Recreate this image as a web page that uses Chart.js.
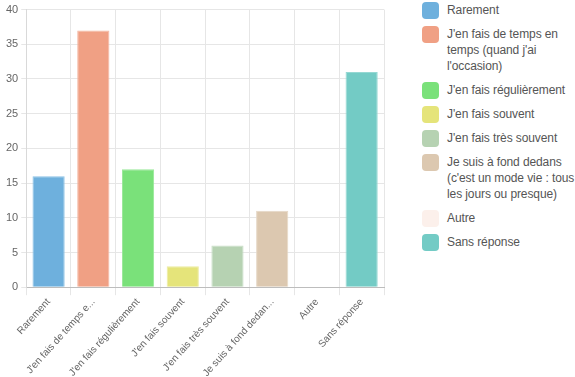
<!DOCTYPE html>
<html>
<head>
<meta charset="utf-8">
<script src="https://cdn.jsdelivr.net/npm/chart.js@4"></script>
<style>
	body { margin: 0; background: #fff; font-family: "Liberation Sans", Arial, sans-serif; }
	#wrap { position: relative; width: 575px; height: 377px; }
	#chart-box { position: absolute; left: 0; top: 0; width: 392px; height: 377px; }
	#legend { position: absolute; left: 422px; top: 2px; width: 153px; margin: 0; padding: 0; list-style: none; }
	#legend li { position: relative; padding-left: 25px; margin-bottom: 8px; font-size: 12px; line-height: 16px; color: #555; letter-spacing: -0.1px; }
	#legend li span { position: absolute; left: 0; top: 0; width: 17px; height: 17px; border-radius: 4px; }
</style>
</head>
<body>
<div id="wrap">
	<div id="chart-box"><canvas id="chart-frequence"></canvas></div>
	<ul id="legend"></ul>
</div>
<script>
const LABELS = [
	"Rarement",
	"J'en fais de temps en temps (quand j'ai l'occasion)",
	"J'en fais régulièrement",
	"J'en fais souvent",
	"J'en fais très souvent",
	"Je suis à fond dedans (c'est un mode vie : tous les jours ou presque)",
	"Autre",
	"Sans réponse",
];
const TICK_LABELS = [
	"Rarement",
	"J'en fais de temps e...",
	"J'en fais régulièrement",
	"J'en fais souvent",
	"J'en fais très souvent",
	"Je suis à fond dedan...",
	"Autre",
	"Sans réponse",
];
const VALUES = [16, 37, 17, 3, 6, 11, 0, 31];
const COLORS = ["#6eb0dd", "#f0a084", "#7ae17a", "#e5e47a", "#b6d2b2", "#dcc8b0", "#fcf0eb", "#73cbc5"];
const BORDERS = ["#8cc2e6", "#f4b7a1", "#98e898", "#ecebA0", "#cadfc7", "#e6d7c5", "#fdf5f2", "#95d8d3"];
const Y_TICKS = { min: 0, max: 40, step: 5 };

const CHART_WRAPPER = document.getElementById("chart-frequence");

// Chart config
const CHART_CONFIG = {
	type: "bar",
	data: {
		labels: TICK_LABELS,
		datasets: [
			{
				label: "Réponses",
				data: VALUES,
				backgroundColor: COLORS,
				borderColor: BORDERS,
				borderWidth: 1,
			},
		],
	},
	options: {
		maintainAspectRatio: false,
		animation: false,
		layout: {
			padding: { top: 7, right: 8, left: 3, bottom: -3 },
		},
		scales: {
			x: {
				grid: { color: "#e6e6e6", tickLength: 8 },
				border: { color: "#bdbdbd" },
				ticks: {
					color: "#666",
					font: { family: "Liberation Sans, Arial, sans-serif", size: 10 },
					maxRotation: 48,
					minRotation: 48,
					padding: 1,
				},
			},
			y: {
				min: Y_TICKS.min,
				max: Y_TICKS.max,
				grid: { color: "#e6e6e6", tickLength: 5 },
				border: { color: "#d9d9d9" },
				ticks: {
					stepSize: Y_TICKS.step,
					color: "#666",
					font: { family: "Liberation Sans, Arial, sans-serif", size: 11 },
					padding: 3,
				},
			},
		},
		plugins: {
			legend: { display: false },
			tooltip: { enabled: false },
		},
	},
};

// Chart init
if (CHART_WRAPPER) {
	new Chart(CHART_WRAPPER, CHART_CONFIG);
}

// HTML legend (wraps long labels)
const legendEl = document.getElementById("legend");
LABELS.forEach((label, i) => {
	const li = document.createElement("li");
	const box = document.createElement("span");
	box.style.background = COLORS[i];
	li.appendChild(box);
	li.appendChild(document.createTextNode(label));
	legendEl.appendChild(li);
});
</script>
</body>
</html>
